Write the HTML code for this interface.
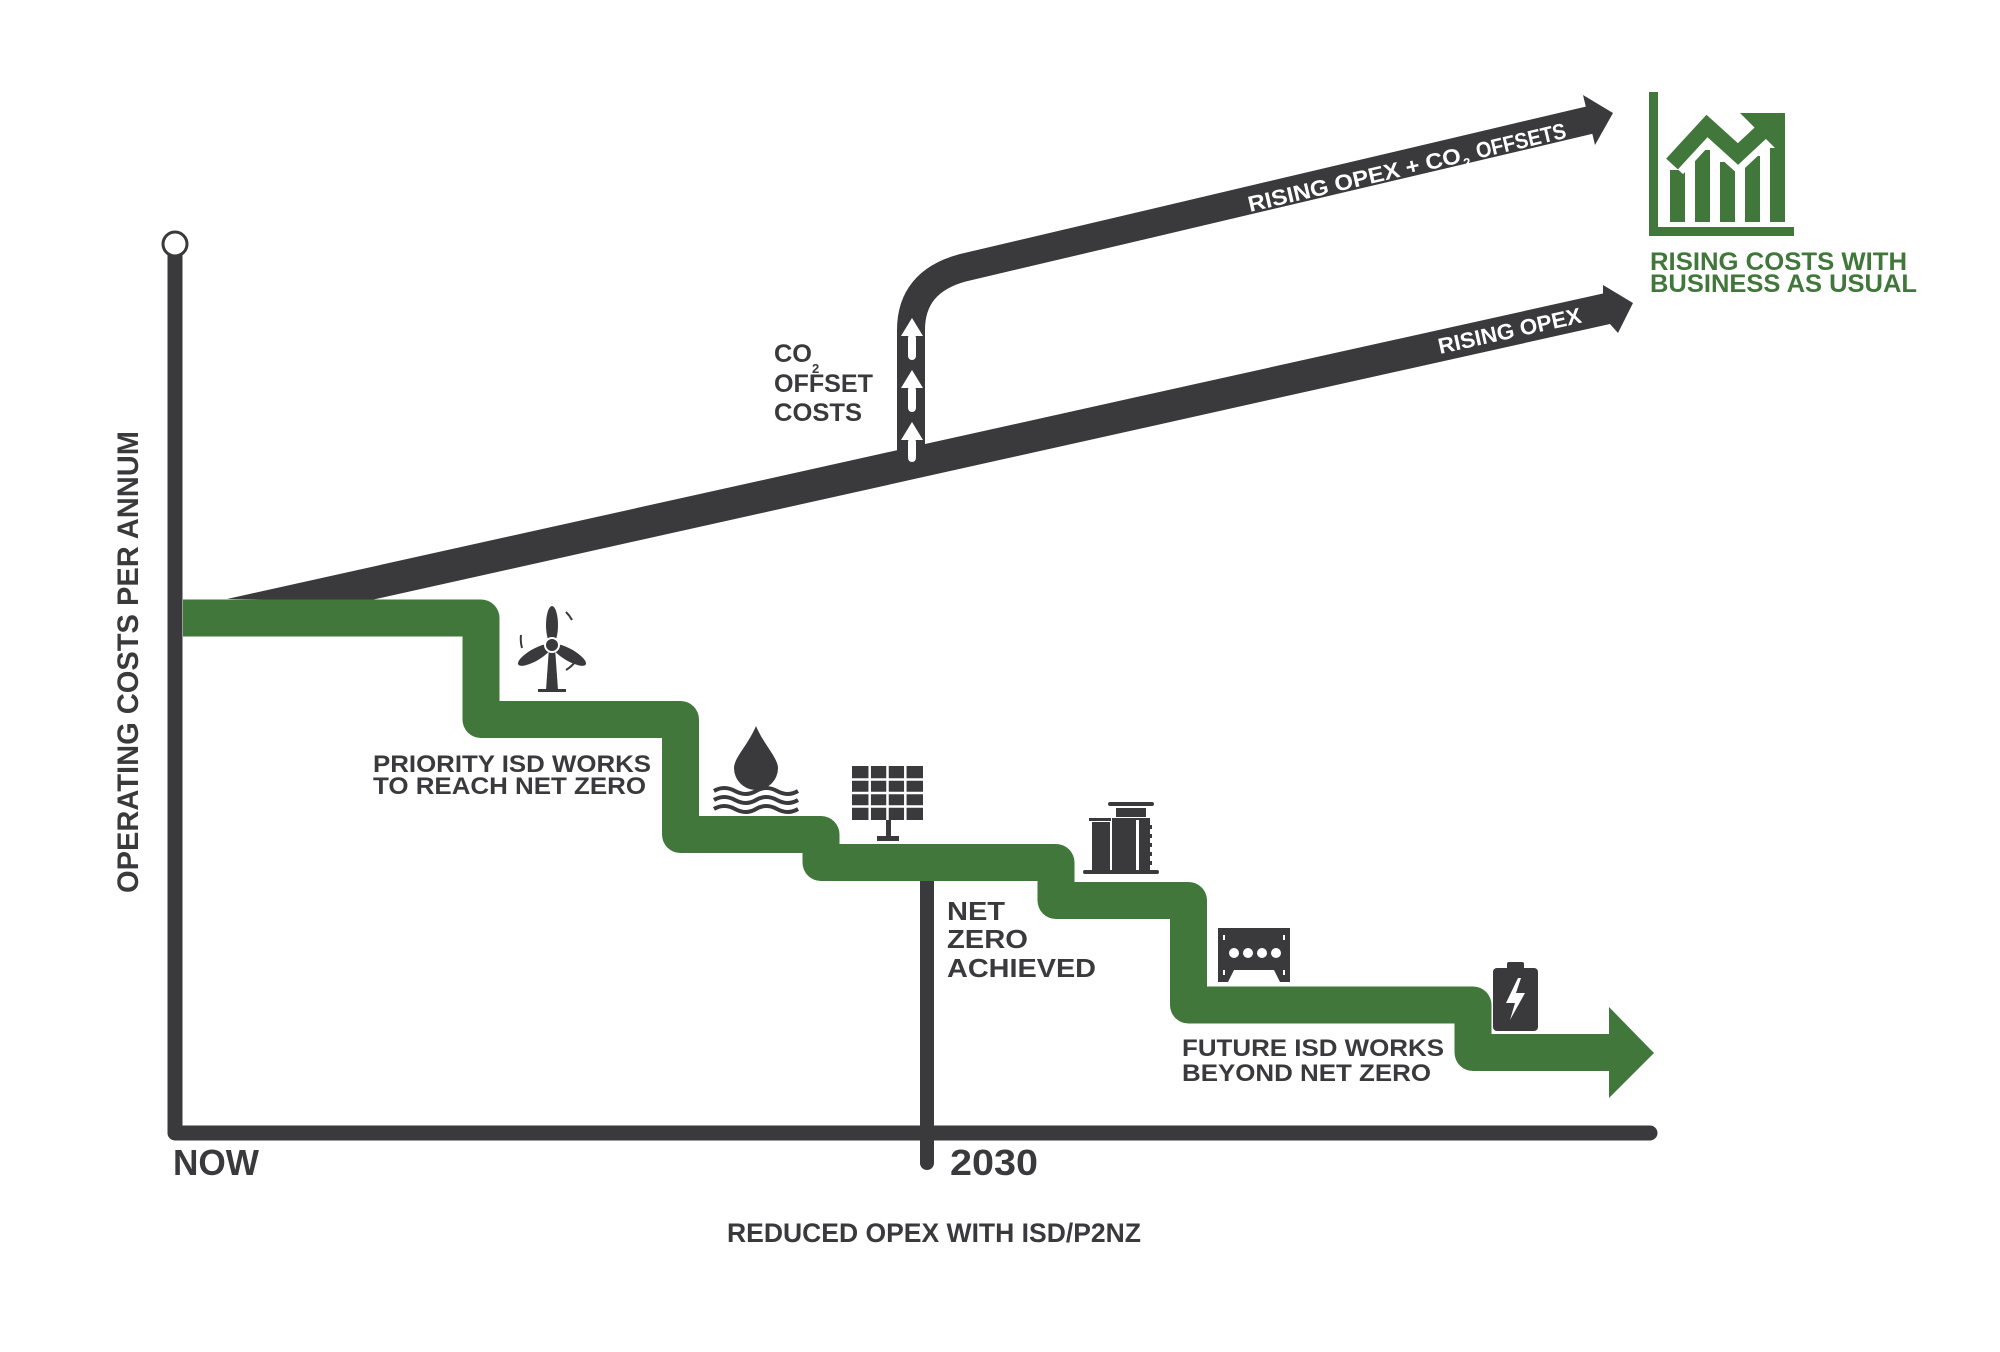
<!DOCTYPE html>
<html><head><meta charset="utf-8"><style>
html,body{margin:0;padding:0;background:#fff;}
svg{display:block;}
text{font-family:"Liberation Sans",sans-serif;font-weight:bold;}
</style></head><body>
<svg width="2000" height="1352" viewBox="0 0 2000 1352" xmlns="http://www.w3.org/2000/svg">
<rect width="2000" height="1352" fill="#fff"/>
<!-- rising opex bar -->
<polygon points="227,599 1603,293.5 1603,285 1633,303 1618,333 1610,324 367,601" fill="#3a3a3c"/>
<!-- upper branch -->
<path d="M911,452 L911,330 Q911,282 962,268 L1590,120" fill="none" stroke="#3a3a3c" stroke-width="28"/>
<polygon points="1583,95 1613,113 1595,145" fill="#3a3a3c"/>
<!-- white arrows in branch -->
<g fill="#fff">
<polygon points="901,336 912,318 923,336"/><rect x="908" y="334" width="8" height="26" rx="4"/>
<polygon points="901,388 912,370 923,388"/><rect x="908" y="386" width="8" height="26" rx="4"/>
<polygon points="901,440 912,422 923,440"/><rect x="908" y="438" width="8" height="24" rx="4"/>
</g>
<!-- axes -->
<line x1="175" y1="255" x2="175" y2="1133" stroke="#3a3a3c" stroke-width="15"/>
<circle cx="175" cy="244" r="12" fill="#fff" stroke="#3a3a3c" stroke-width="3"/>
<line x1="175" y1="1133" x2="1650" y2="1133" stroke="#3a3a3c" stroke-width="15" stroke-linecap="round"/>
<line x1="927" y1="870" x2="927" y2="1163" stroke="#3a3a3c" stroke-width="14" stroke-linecap="round"/>
<!-- green steps -->
<polyline points="183,618 481,618 481,719.5 680.5,719.5 680.5,834.5 821,834.5 821,862.5 1056,862.5 1056,900.5 1188.5,900.5 1188.5,1005 1473,1005 1473,1052.5 1612,1052.5" fill="none" stroke="#41773a" stroke-width="37" stroke-linejoin="round"/>
<polygon points="1609,1007 1654,1053 1609,1098" fill="#41773a"/>
<!-- bar labels -->
<text transform="translate(1250,212) rotate(-13.2)" font-size="22" fill="#fff" textLength="218" lengthAdjust="spacingAndGlyphs">RISING OPEX + CO</text>
<text transform="translate(1250,212) rotate(-13.2)" font-size="13" fill="#fff"><tspan x="219" y="6">2</tspan></text>
<text transform="translate(1250,212) rotate(-13.2)" font-size="22" fill="#fff" x="234" textLength="92" lengthAdjust="spacingAndGlyphs">OFFSETS</text>
<text transform="translate(1440,354) rotate(-12.5)" font-size="22" fill="#fff" textLength="146" lengthAdjust="spacingAndGlyphs">RISING OPEX</text>
<!-- labels -->
<g fill="#3a3a3c">
<text x="774" y="362" font-size="25" textLength="38" lengthAdjust="spacingAndGlyphs">CO</text>
<text x="812" y="373" font-size="13">2</text>
<text x="774" y="392" font-size="25" textLength="99" lengthAdjust="spacingAndGlyphs">OFFSET</text>
<text x="774" y="421" font-size="25" textLength="88" lengthAdjust="spacingAndGlyphs">COSTS</text>
<text x="373" y="772" font-size="24" textLength="278" lengthAdjust="spacingAndGlyphs">PRIORITY ISD WORKS</text>
<text x="373" y="794" font-size="24" textLength="273" lengthAdjust="spacingAndGlyphs">TO REACH NET ZERO</text>
<text x="947" y="920" font-size="26" textLength="58" lengthAdjust="spacingAndGlyphs">NET</text>
<text x="947" y="948" font-size="26" textLength="81" lengthAdjust="spacingAndGlyphs">ZERO</text>
<text x="947" y="977" font-size="26" textLength="149" lengthAdjust="spacingAndGlyphs">ACHIEVED</text>
<text x="1182" y="1056" font-size="24" textLength="262" lengthAdjust="spacingAndGlyphs">FUTURE ISD WORKS</text>
<text x="1182" y="1081" font-size="24" textLength="249" lengthAdjust="spacingAndGlyphs">BEYOND NET ZERO</text>
<text x="173" y="1175" font-size="36" textLength="86" lengthAdjust="spacingAndGlyphs">NOW</text>
<text x="950" y="1175" font-size="36" textLength="88" lengthAdjust="spacingAndGlyphs">2030</text>
<text x="727" y="1242" font-size="27" textLength="414" lengthAdjust="spacingAndGlyphs">REDUCED OPEX WITH ISD/P2NZ</text>
<text transform="translate(138,893) rotate(-90)" font-size="30" textLength="462" lengthAdjust="spacingAndGlyphs">OPERATING COSTS PER ANNUM</text>
</g>
<!-- chart icon -->
<g fill="#41773a">
<rect x="1649" y="92" width="9" height="144"/>
<rect x="1649" y="227" width="145" height="9"/>
<rect x="1670" y="170" width="15" height="52"/>
<rect x="1695" y="150" width="15" height="72"/>
<rect x="1720" y="162" width="15" height="60"/>
<rect x="1745" y="156" width="15" height="66"/>
<rect x="1770" y="148" width="15" height="74"/>
</g>
<polyline points="1672,164 1707,126 1738,154 1772,122" fill="none" stroke="#fff" stroke-width="30" stroke-linejoin="miter"/>
<polyline points="1672,164 1707,126 1738,154 1768,126" fill="none" stroke="#41773a" stroke-width="16" stroke-linejoin="miter"/>
<polygon points="1740,113 1785,113 1785,158" fill="#41773a"/>
<text x="1650" y="270" font-size="25" fill="#41773a" textLength="257" lengthAdjust="spacingAndGlyphs">RISING COSTS WITH</text>
<text x="1650" y="292" font-size="25" fill="#41773a" textLength="267" lengthAdjust="spacingAndGlyphs">BUSINESS AS USUAL</text>
<!-- wind turbine -->
<g fill="#3a3a3c">
<polygon points="549,648 555,648 558,690 546,690"/>
<rect x="538" y="689" width="28" height="3"/>
<ellipse cx="552" cy="625" rx="6" ry="19"/>
<ellipse cx="552" cy="625" rx="6" ry="19" transform="rotate(120 552 645)"/>
<ellipse cx="552" cy="625" rx="6" ry="19" transform="rotate(240 552 645)"/>
<circle cx="552" cy="645" r="7" stroke="#fff" stroke-width="2"/>
</g>
<path d="M566,612 A32,32 0 0 1 572,620 M521,635 A32,32 0 0 0 522,648 M575,662 A32,32 0 0 1 566,670" stroke="#3a3a3c" stroke-width="2" fill="none"/>
<!-- drop -->
<path d="M756,726 C748,745 734,758 734,768 A22,22 0 0 0 778,768 C778,758 764,745 756,726Z" fill="#3a3a3c"/>
<path d="M714,791 q10,-6 21,0 t21,0 t21,0 t21,0 M714,800 q10,-6 21,0 t21,0 t21,0 t21,0 M714,809 q10,-6 21,0 t21,0 t21,0 t21,0" stroke="#3a3a3c" stroke-width="4" fill="none"/>
<!-- solar panel -->
<g fill="#3a3a3c">
<rect x="852" y="766" width="71" height="54"/>
<rect x="886" y="818" width="5" height="20"/>
<rect x="877" y="836" width="22" height="5"/>
</g>
<g stroke="#fff" stroke-width="2.5">
<line x1="869.7" y1="766" x2="869.7" y2="820"/><line x1="887.5" y1="766" x2="887.5" y2="820"/><line x1="905.3" y1="766" x2="905.3" y2="820"/>
<line x1="852" y1="779.5" x2="923" y2="779.5"/><line x1="852" y1="793" x2="923" y2="793"/><line x1="852" y1="806.5" x2="923" y2="806.5"/>
</g>
<!-- buildings -->
<g fill="#3a3a3c">
<rect x="1083" y="870" width="76" height="4" rx="2"/>
<rect x="1092" y="822" width="18" height="48"/>
<rect x="1089" y="818" width="22" height="3"/>
<rect x="1112" y="818" width="38" height="52"/>
<rect x="1116" y="808" width="30" height="9"/>
<rect x="1108" y="802" width="46" height="4" rx="2"/>
<rect x="1140" y="825" width="12" height="4"/><rect x="1140" y="834" width="12" height="4"/><rect x="1140" y="843" width="12" height="4"/><rect x="1140" y="852" width="12" height="4"/><rect x="1140" y="861" width="12" height="4"/>
</g>
<rect x="1136" y="820" width="3" height="50" fill="#fff"/>
<!-- engine -->
<path d="M1218,928 h72 v54 h-10 l-6,-12 h-40 l-6,12 h-10z" fill="#3a3a3c"/>
<g fill="#fff"><circle cx="1234" cy="953" r="5"/><circle cx="1248" cy="953" r="5"/><circle cx="1262" cy="953" r="5"/><circle cx="1276" cy="953" r="5"/>
<rect x="1223" y="935" width="2" height="5"/><rect x="1283" y="935" width="2" height="5"/><rect x="1223" y="970" width="2" height="5"/><rect x="1283" y="970" width="2" height="5"/></g>
<!-- battery -->
<rect x="1493" y="968" width="45" height="63" rx="4" fill="#3a3a3c"/>
<rect x="1507" y="962" width="17" height="8" rx="2" fill="#3a3a3c"/>
<polygon points="1518,978 1506,1003 1515,1003 1510,1020 1525,993 1516,993 1521,978" fill="#fff"/>
</svg>
</body></html>
